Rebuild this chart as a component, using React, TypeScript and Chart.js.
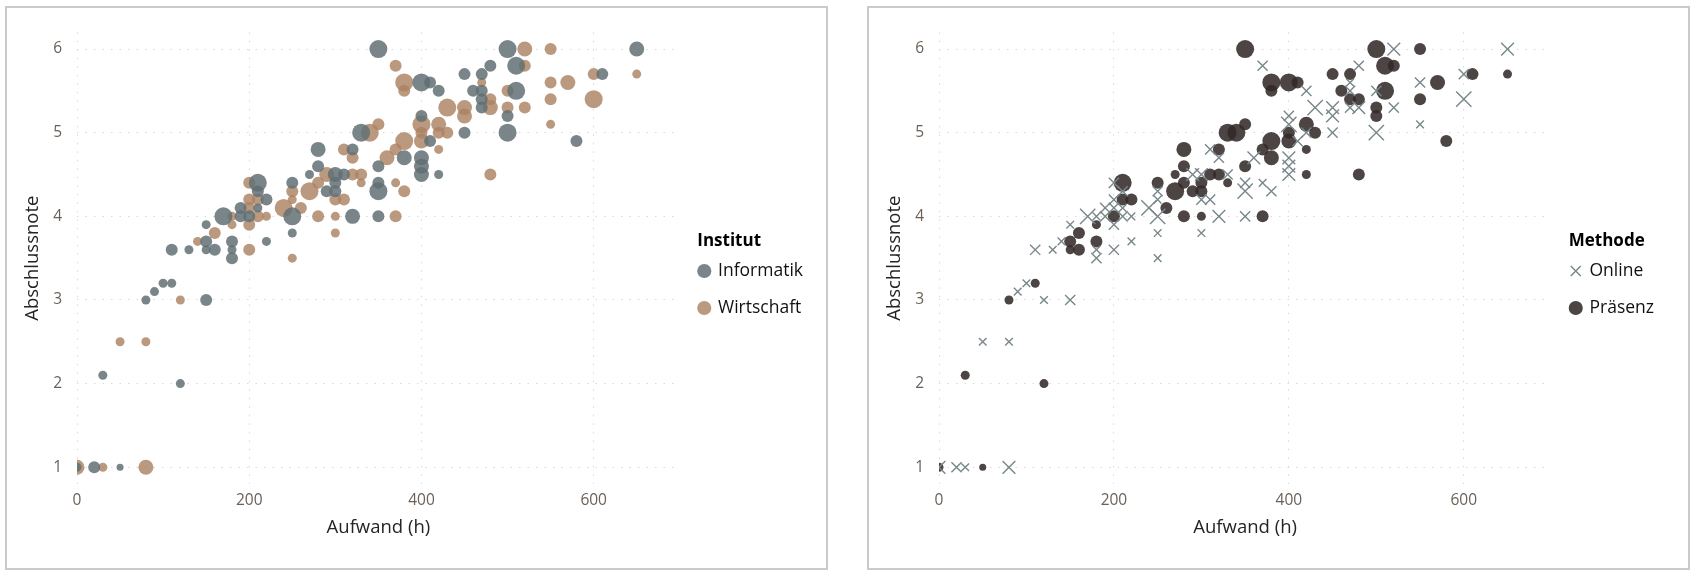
import { useEffect, useRef } from 'react';
import { Chart, registerables } from 'chart.js';

Chart.register(...registerables);

// Achsenbeschriftungen
const aufwandTicks = [0, 200, 400, 600];
const notenTicks = [1, 2, 3, 4, 5, 6];

// Aufwand in Stunden je Studierendem
const aufwand = [
  350, 500, 520, 550, 650,
  370, 480, 510, 520,
  450, 470, 600, 610, 650,
  380, 400, 410, 470, 550, 570,
  380, 420, 460, 470, 500, 510,
  470, 480, 550, 600,
  430, 450, 470, 480, 500, 520,
  400, 450, 500,
  350, 400, 420, 550,
  330, 340, 400, 420, 430, 450, 500,
  380, 400, 410, 580,
  280, 310, 320, 370, 420,
  320, 360, 380, 400,
  280, 350, 400,
  270, 290, 300, 310, 320, 330, 400, 420, 480,
  200, 210, 250, 280, 300, 330, 350, 370,
  210, 250, 270, 290, 300, 350, 380,
  200, 210, 220, 250, 300, 310,
  190, 200, 210, 240, 260,
  170, 180, 190, 200, 210, 220, 250, 280, 300, 320, 350, 370,
  150, 180, 200,
  160, 250, 300,
  140, 150, 180, 220,
  110, 130, 150, 160, 180, 200,
  180, 250,
  100, 110, 90, 80, 120, 150,
  50, 80,
  30, 120,
  0, 0, 20, 30, 50, 80,
];

// Abschlussnote
const note = [
  6.0, 6.0, 6.0, 6.0, 6.0,
  5.8, 5.8, 5.8, 5.8,
  5.7, 5.7, 5.7, 5.7, 5.7,
  5.6, 5.6, 5.6, 5.6, 5.6, 5.6,
  5.5, 5.5, 5.5, 5.5, 5.5, 5.5,
  5.4, 5.4, 5.4, 5.4,
  5.3, 5.3, 5.3, 5.3, 5.3, 5.3,
  5.2, 5.2, 5.2,
  5.1, 5.1, 5.1, 5.1,
  5.0, 5.0, 5.0, 5.0, 5.0, 5.0, 5.0,
  4.9, 4.9, 4.9, 4.9,
  4.8, 4.8, 4.8, 4.8, 4.8,
  4.7, 4.7, 4.7, 4.7,
  4.6, 4.6, 4.6,
  4.5, 4.5, 4.5, 4.5, 4.5, 4.5, 4.5, 4.5, 4.5,
  4.4, 4.4, 4.4, 4.4, 4.4, 4.4, 4.4, 4.4,
  4.3, 4.3, 4.3, 4.3, 4.3, 4.3, 4.3,
  4.2, 4.2, 4.2, 4.2, 4.2, 4.2,
  4.1, 4.1, 4.1, 4.1, 4.1,
  4.0, 4.0, 4.0, 4.0, 4.0, 4.0, 4.0, 4.0, 4.0, 4.0, 4.0, 4.0,
  3.9, 3.9, 3.9,
  3.8, 3.8, 3.8,
  3.7, 3.7, 3.7, 3.7,
  3.6, 3.6, 3.6, 3.6, 3.6, 3.6,
  3.5, 3.5,
  3.2, 3.2, 3.1, 3.0, 3.0, 3.0,
  2.5, 2.5,
  2.1, 2.0,
  1.0, 1.0, 1.0, 1.0, 1.0, 1.0,
];

// Gewicht (bestimmt die Punktgröße, 1 bis 5)
const gewicht = [
  5, 5, 4, 3, 4,
  3, 3, 5, 3,
  3, 3, 3, 3, 2,
  5, 5, 3, 2, 3, 4,
  3, 3, 3, 3, 3, 5,
  3, 3, 3, 5,
  5, 4, 3, 4, 3, 3,
  3, 4, 3,
  3, 5, 4, 2,
  5, 5, 3, 3, 3, 3, 5,
  5, 4, 3, 3,
  4, 3, 3, 3, 2,
  3, 4, 4, 4,
  3, 3, 4,
  2, 4, 4, 3, 3, 3, 4, 2, 3,
  3, 5, 3, 3, 3, 2, 3, 2,
  3, 3, 5, 3, 3, 5, 3,
  3, 3, 3, 2, 3, 3,
  3, 3, 2, 5, 3,
  5, 2, 3, 3, 3, 2, 5, 3, 2, 4, 3, 3,
  2, 2, 3,
  3, 2, 2,
  2, 3, 3, 2,
  3, 2, 2, 3, 2, 3,
  3, 2,
  2, 2, 2, 2, 2, 3,
  2, 2,
  2, 2,
  4, 2, 3, 2, 1, 4,
];

const institutNamen = ['Informatik', 'Wirtschaft'];
// 0 = Informatik, 1 = Wirtschaft
const institut = [
  0, 0, 1, 1, 0,
  1, 0, 0, 1,
  0, 0, 1, 0, 1,
  1, 0, 0, 1, 1, 1,
  1, 0, 0, 0, 1, 0,
  0, 1, 1, 1,
  1, 1, 0, 1, 1, 1,
  0, 1, 0,
  1, 1, 1, 1,
  0, 1, 1, 1, 1, 0, 0,
  1, 1, 0, 0,
  0, 1, 0, 1, 1,
  1, 1, 0, 0,
  0, 0, 0,
  0, 1, 0, 0, 1, 1, 0, 0, 1,
  1, 0, 0, 1, 0, 1, 0, 1,
  0, 1, 1, 0, 0, 0, 1,
  1, 1, 0, 1, 1, 1,
  0, 1, 0, 1, 1,
  0, 1, 0, 0, 1, 1, 0, 1, 1, 0, 0, 1,
  0, 1, 1,
  1, 0, 1,
  1, 0, 0, 0,
  0, 0, 0, 0, 0, 1,
  0, 1,
  0, 0, 0, 0, 1, 0,
  1, 1,
  0, 0,
  1, 0, 0, 1, 0, 1,
];

const methodeNamen = ['Online', 'Präsenz'];
// 0 = Online, 1 = Präsenz
const methode = [
  1, 1, 0, 1, 0,
  0, 0, 1, 1,
  1, 1, 0, 1, 1,
  1, 1, 1, 0, 0, 1,
  1, 0, 1, 0, 0, 1,
  1, 1, 1, 0,
  0, 0, 0, 0, 1, 0,
  0, 0, 1,
  1, 0, 1, 0,
  1, 1, 1, 0, 1, 0, 0,
  1, 1, 0, 1,
  1, 0, 1, 1, 1,
  0, 0, 1, 0,
  1, 1, 0,
  1, 0, 0, 1, 1, 0, 0, 1, 1,
  0, 1, 1, 1, 1, 1, 0, 0,
  0, 0, 1, 1, 1, 0, 0,
  0, 1, 1, 0, 0, 0,
  0, 0, 0, 0, 1,
  0, 0, 0, 1, 0, 0, 0, 1, 1, 0, 0, 1,
  0, 1, 0,
  1, 0, 0,
  0, 1, 1, 0,
  0, 0, 1, 1, 0, 0,
  0, 0,
  0, 1, 0, 1, 0, 0,
  0, 0,
  1, 1,
  0, 1, 0, 0, 1, 0,
];

const FONT = "'Segoe UI', 'Open Sans', sans-serif";
const RADIUS = [0, 3.5, 4.5, 6, 7.5, 9];

function punkteFuer(gruppe: number[], wert: number) {
  const idx = aufwand.map((_, i) => i).filter(i => gruppe[i] === wert);
  return {
    data: idx.map(i => ({ x: aufwand[i], y: note[i] })),
    radius: idx.map(i => RADIUS[gewicht[i]]),
  };
}

// Legend title drawn just above the first legend item
const legendTitlePlugin = {
  id: 'legendTitle',
  afterDraw(chart: any, _args: any, opts: any) {
    const legend = chart.legend;
    if (!legend || !legend.legendHitBoxes || !legend.legendHitBoxes.length) return;
    const box = legend.legendHitBoxes[0];
    const ctx = chart.ctx;
    ctx.save();
    ctx.font = `bold 17px ${FONT}`;
    ctx.fillStyle = '#000';
    ctx.textBaseline = 'middle';
    ctx.textAlign = 'left';
    ctx.fillText(opts.text, box.left - 2, box.top + box.height / 2 - 30);
    ctx.restore();
  },
};

function buildOptions(legendTitle: string, padRight: number): any {
  return {
    responsive: true,
    maintainAspectRatio: false,
    animation: false,
    events: [],
    layout: { padding: { left: 10, top: 22, right: padRight, bottom: 19 } },
    plugins: {
      tooltip: { enabled: false },
      legendTitle: { text: legendTitle },
      legend: {
        position: 'right',
        align: 'center',
        labels: {
          usePointStyle: true,
          boxWidth: 10,
          boxHeight: 10,
          color: '#111',
          padding: 19.5,
          font: { family: FONT, size: 17.5 },
        },
      },
    },
    scales: {
      x: {
        type: 'linear',
        min: 0,
        max: 700,
        ticks: { color: '#6b6158', padding: 7, font: { family: FONT, size: 15.5 } },
        grid: { color: '#d9d9d9', drawTicks: false },
        border: { display: false, dash: [1.5, 7] },
        title: {
          display: true,
          text: 'Aufwand (h)',
          color: '#252423',
          font: { family: FONT, size: 18.5 },
          padding: { top: 4, bottom: 10 },
        },
        afterBuildTicks: (s: any) => {
          s.ticks = aufwandTicks.map(v => ({ value: v }));
        },
        afterFit: (s: any) => {
          s.height = 65;
        },
      },
      y: {
        type: 'linear',
        min: 0.8,
        max: 6.2,
        ticks: { color: '#6b6158', padding: 15, font: { family: FONT, size: 15.5 } },
        grid: { color: '#d9d9d9', drawTicks: false },
        border: { display: false, dash: [1.5, 7] },
        title: {
          display: true,
          text: 'Abschlussnote',
          color: '#252423',
          font: { family: FONT, size: 18.5 },
          padding: { top: 5, bottom: 4 },
        },
        afterBuildTicks: (s: any) => {
          s.ticks = notenTicks.map(v => ({ value: v }));
        },
        afterFit: (s: any) => {
          s.width = 60;
        },
      },
    },
  };
}

function ScatterPanel({ datasets, legendTitle, left, padRight }: { datasets: any[]; legendTitle: string; left: number; padRight: number }) {
  const chartRef = useRef<HTMLCanvasElement>(null);
  const chartInstance = useRef<Chart | null>(null);

  useEffect(() => {
    if (!chartRef.current) return;
    if (chartInstance.current) chartInstance.current.destroy();
    const ctx = chartRef.current.getContext('2d');
    if (!ctx) return;

    chartInstance.current = new Chart(ctx, {
      type: 'scatter',
      data: { datasets },
      options: buildOptions(legendTitle, padRight),
      plugins: [legendTitlePlugin],
    });

    return () => {
      if (chartInstance.current) {
        chartInstance.current.destroy();
        chartInstance.current = null;
      }
    };
  }, [datasets, legendTitle, padRight]);

  return (
    <div
      style={{
        position: 'absolute',
        left,
        top: 6,
        width: 823,
        height: 564,
        boxSizing: 'border-box',
        border: '2px solid #c8cacb',
        background: '#fff',
      }}
    >
      <div style={{ position: 'relative', width: 819, height: 560 }}>
        <canvas ref={chartRef}></canvas>
      </div>
    </div>
  );
}

const informatik = punkteFuer(institut, 0);
const wirtschaft = punkteFuer(institut, 1);
const online = punkteFuer(methode, 0);
const praesenz = punkteFuer(methode, 1);

const institutDatasets = [
  {
    label: institutNamen[0],
    data: informatik.data,
    pointRadius: informatik.radius,
    pointStyle: 'circle',
    backgroundColor: 'rgba(97, 112, 116, 0.85)',
    borderWidth: 0,
  },
  {
    label: institutNamen[1],
    data: wirtschaft.data,
    pointRadius: wirtschaft.radius,
    pointStyle: 'circle',
    backgroundColor: 'rgba(172, 131, 99, 0.82)',
    borderWidth: 0,
  },
];

const methodeDatasets = [
  {
    label: methodeNamen[0],
    data: online.data,
    pointRadius: online.radius.map(r => r * 1.2),
    pointStyle: 'crossRot',
    backgroundColor: 'rgba(120, 135, 138, 1)',
    borderColor: 'rgba(120, 135, 138, 1)',
    borderWidth: 1.4,
  },
  {
    label: methodeNamen[1],
    data: praesenz.data,
    pointRadius: praesenz.radius,
    pointStyle: 'circle',
    backgroundColor: 'rgba(52, 42, 42, 0.88)',
    borderWidth: 0,
  },
];

export default function App() {
  return (
    <div style={{ position: 'absolute', left: 0, top: 0, width: 1697, height: 576, background: '#fff' }}>
      <ScatterPanel datasets={institutDatasets} legendTitle="Institut" left={5} padRight={13} />
      <ScatterPanel datasets={methodeDatasets} legendTitle="Methode" left={867} padRight={24} />
    </div>
  );
}
